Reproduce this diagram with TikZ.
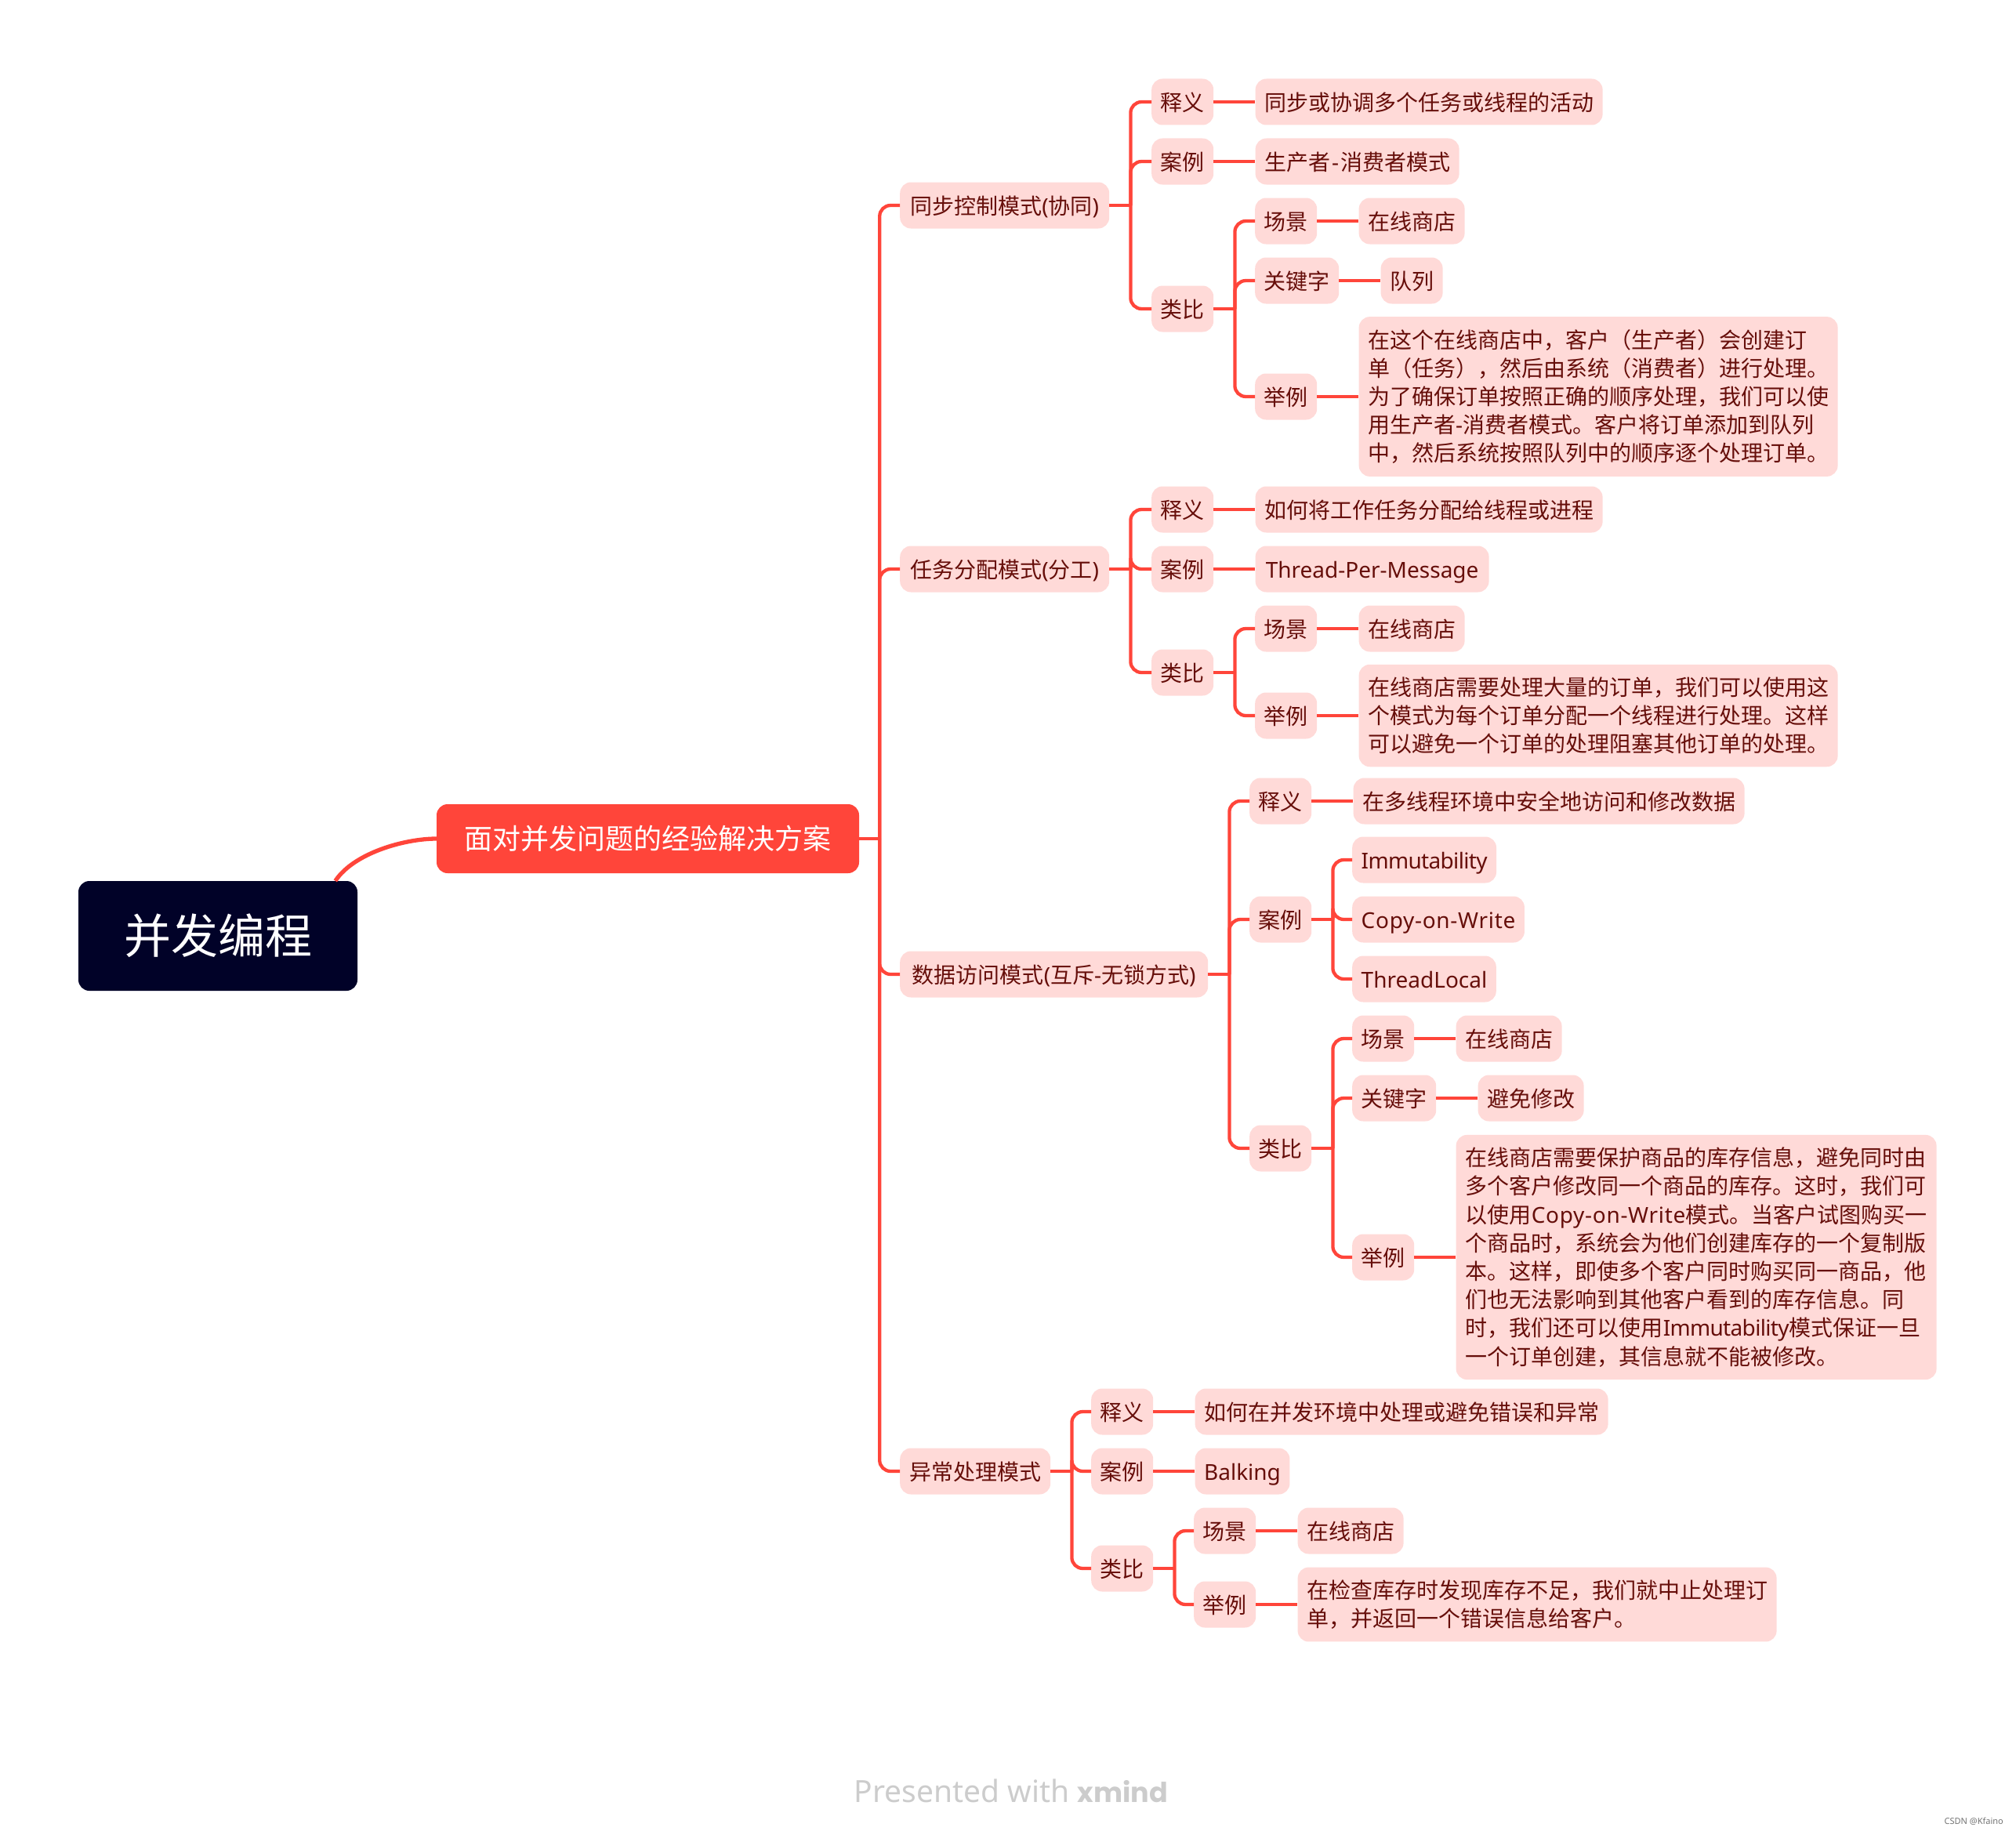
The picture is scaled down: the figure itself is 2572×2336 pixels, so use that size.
\documentclass[tikz,border=0pt]{standalone}
\usepackage{fontspec}
\setmainfont{Noto Sans CJK SC}
\newfontfamily\latinfont{Noto Sans}
\newfontfamily\brandfont{Poppins}
\newcommand{\lat}[2][0]{{\latinfont\addfontfeature{LetterSpace=#1}#2}}
\usetikzlibrary{
  calc,
  positioning,
}
\definecolor{rootblue}{RGB}{1,2,40}
\definecolor{linkred}{RGB}{255,69,58}
\definecolor{subpink}{RGB}{255,218,216}
\definecolor{subtext}{RGB}{102,14,10}
\tikzset{
  rootbox/.style={fill=rootblue, text=white, rounded corners=14pt, minimum width=356pt, minimum height=140pt, font=\fontsize{60}{72}\selectfont},
  topicbox/.style={fill=linkred, text=white, rounded corners=14pt, minimum width=539pt, minimum height=88pt, font=\fontsize{36}{44}\selectfont},
  subbox/.style={fill=subpink, text=subtext, rounded corners=14pt, inner xsep=11.5pt, inner ysep=0pt, minimum height=59pt, text height=26pt, text depth=3pt, align=left, font=\fontsize{28}{36.2}\selectfont},
  longbox/.style={subbox, text height=, text depth=, inner ysep=16pt},
  link/.style={draw=linkred, line width=4.3pt, rounded corners=14pt},
  note/.style={text=black!20, font=\fontsize{39}{48}\selectfont\latinfont},
}

\begin{document}
\begin{tikzpicture}[x=1pt, y=-1pt, node distance=53pt]
      \useasboundingbox (0,0) rectangle (2572,2336);

      \node [rootbox] (root) at (278,1194) {并发编程};
      \node [topicbox] (topic) at (826.5,1070) {面对并发问题的经验解决方案};

      % first branch
      \node [subbox, anchor=west, minimum width=267pt] (sync) at (1148,262) {同步控制模式\lat{(}协同\lat{)}};
      \node [subbox, anchor=west] (syncdef) at (1469,130) {释义};
      \node [subbox, right=of syncdef] (syncdeft) {同步或协调多个任务或线程的活动};
      \node [subbox, anchor=west] (synccase) at (1469,206) {案例};
      \node [subbox, right=of synccase] (synccaset) {生产者\kern2pt\lat{-}\kern2pt消费者模式};
      \node [subbox, anchor=west] (syncana) at (1469,394) {类比};
      \node [subbox, anchor=west] (syncsce) at (1601,282) {场景};
      \node [subbox, right=of syncsce] (syncscet) {在线商店};
      \node [subbox, anchor=west] (synckey) at (1601,358) {关键字};
      \node [subbox, right=of synckey] (synckeyt) {队列};
      \node [subbox, anchor=west] (syncex) at (1601,506) {举例};
      \node [longbox, right=of syncex] (syncext) {在这个在线商店中，客户（生产者）会创建订\\单（任务），然后由系统（消费者）进行处理。\\为了确保订单按照正确的顺序处理，我们可以使\\用生产者\lat{-}消费者模式。客户将订单添加到队列\\中，然后系统按照队列中的顺序逐个处理订单。};

      % second branch
      \node [subbox, anchor=west, minimum width=267pt] (task) at (1148,726) {任务分配模式\lat{(}分工\lat{)}};
      \node [subbox, anchor=west] (taskdef) at (1469,650) {释义};
      \node [subbox, right=of taskdef] (taskdeft) {如何将工作任务分配给线程或进程};
      \node [subbox, anchor=west] (taskcase) at (1469,726) {案例};
      \node [subbox, right=of taskcase, minimum width=298pt] (taskcaset) {\lat{Thread-Per-Message}};
      \node [subbox, anchor=west] (taskana) at (1469,858) {类比};
      \node [subbox, anchor=west] (tasksce) at (1601,802) {场景};
      \node [subbox, right=of tasksce] (taskscet) {在线商店};
      \node [subbox, anchor=west] (taskex) at (1601,913) {举例};
      \node [longbox, right=of taskex] (taskext) {在线商店需要处理大量的订单，我们可以使用这\\个模式为每个订单分配一个线程进行处理。这样\\可以避免一个订单的处理阻塞其他订单的处理。};

      % third branch
      \node [subbox, anchor=west, minimum width=393pt] (data) at (1148,1243) {数据访问模式\lat{(}互斥\lat{-}无锁方式\lat{)}};
      \node [subbox, anchor=west] (datadef) at (1594,1022) {释义};
      \node [subbox, right=of datadef] (datadeft) {在多线程环境中安全地访问和修改数据};
      \node [subbox, anchor=west] (datacase) at (1594,1173) {案例};
      \node [subbox, anchor=west] (dataim) at (1725,1097) {\lat[-2.4]{Immutability}};
      \node [subbox, anchor=west] (datacw) at (1725,1173) {\lat[2.5]{Copy-on-Write}};
      \node [subbox, anchor=west] (datatl) at (1725,1249) {\lat{ThreadLocal}};
      \node [subbox, anchor=west] (dataana) at (1594,1465) {类比};
      \node [subbox, anchor=west] (datasce) at (1725,1325) {场景};
      \node [subbox, right=of datasce] (datascet) {在线商店};
      \node [subbox, anchor=west] (datakey) at (1725,1401) {关键字};
      \node [subbox, right=of datakey] (datakeyt) {避免修改};
      \node [subbox, anchor=west] (dataex) at (1725,1604) {举例};
      \node [longbox, right=of dataex, minimum width=613pt] (dataext) {在线商店需要保护商品的库存信息，避免同时由\\多个客户修改同一个商品的库存。这时，我们可\\以使用\lat[2.5]{Copy-on-Write}模式。当客户试图购买一\\个商品时，系统会为他们创建库存的一个复制版\\本。这样，即使多个客户同时购买同一商品，他\\们也无法影响到其他客户看到的库存信息。同\\时，我们还可以使用\lat[-2.4]{Immutability}模式保证一旦\\一个订单创建，其信息就不能被修改。};

      % fourth branch
      \node [subbox, anchor=west, minimum width=192pt] (fault) at (1148,1877) {异常处理模式};
      \node [subbox, anchor=west] (faultdef) at (1392,1801) {释义};
      \node [subbox, right=of faultdef] (faultdeft) {如何在并发环境中处理或避免错误和异常};
      \node [subbox, anchor=west] (faultcase) at (1392,1877) {案例};
      \node [subbox, right=of faultcase] (faultcaset) {\lat{Balking}};
      \node [subbox, anchor=west] (faultana) at (1392,2001) {类比};
      \node [subbox, anchor=west] (faultsce) at (1523,1953) {场景};
      \node [subbox, right=of faultsce] (faultscet) {在线商店};
      \node [subbox, anchor=west] (faultex) at (1523,2047) {举例};
      \node [longbox, right=of faultex] (faultext) {在检查库存时发现库存不足，我们就中止处理订\\单，并返回一个错误信息给客户。};

      \node [note, anchor=west] (brand) at (1086,2285) {Presented with {\brandfont\bfseries\fontsize{35}{48}\selectfont xmind}};
      \node [text=black!55, anchor=east, inner sep=0pt, font=\fontsize{11}{13}\latinfont\selectfont] (mark) at (2556,2324) {CSDN @Kfaino};

      \coordinate (rootend) at ($(root.north west)+(328,0)$);
      \draw [draw=linkred, line width=5.3pt] (rootend) .. controls +(24,-36) and +(-40,0) .. (topic.west);

      \coordinate (topicbus) at ($(topic.east)+(26,0)$);
      \draw [link] (topic.east) -- (topicbus);
      \foreach \kid in {sync,task,data,fault}
        \draw [link] (\kid.west) -| (topicbus);

      \coordinate (syncbus) at ($(sync.east)+(27,0)$);
      \draw [link] (sync.east) -- (syncbus);
      \foreach \kid in {syncdef,synccase,syncana}
        \draw [link] (\kid.west) -| (syncbus);
      \coordinate (syncanabus) at ($(syncana.east)+(27,0)$);
      \draw [link] (syncana.east) -- (syncanabus);
      \foreach \kid in {syncsce,synckey,syncex}
        \draw [link] (\kid.west) -| (syncanabus);

      \coordinate (taskbus) at ($(task.east)+(27,0)$);
      \draw [link] (task.east) -- (taskbus);
      \foreach \kid in {taskdef,taskcase,taskana}
        \draw [link] (\kid.west) -| (taskbus);
      \coordinate (taskanabus) at ($(taskana.east)+(27,0)$);
      \draw [link] (taskana.east) -- (taskanabus);
      \foreach \kid in {tasksce,taskex}
        \draw [link] (\kid.west) -| (taskanabus);

      \coordinate (databus) at ($(data.east)+(27,0)$);
      \draw [link] (data.east) -- (databus);
      \foreach \kid in {datadef,datacase,dataana}
        \draw [link] (\kid.west) -| (databus);
      \coordinate (datacasebus) at ($(datacase.east)+(27,0)$);
      \draw [link] (datacase.east) -- (datacasebus);
      \foreach \kid in {dataim,datacw,datatl}
        \draw [link] (\kid.west) -| (datacasebus);
      \coordinate (dataanabus) at ($(dataana.east)+(27,0)$);
      \draw [link] (dataana.east) -- (dataanabus);
      \foreach \kid in {datasce,datakey,dataex}
        \draw [link] (\kid.west) -| (dataanabus);

      \coordinate (faultbus) at ($(fault.east)+(27,0)$);
      \draw [link] (fault.east) -- (faultbus);
      \foreach \kid in {faultdef,faultcase,faultana}
        \draw [link] (\kid.west) -| (faultbus);
      \coordinate (faultanabus) at ($(faultana.east)+(27,0)$);
      \draw [link] (faultana.east) -- (faultanabus);
      \foreach \kid in {faultsce,faultex}
        \draw [link] (\kid.west) -| (faultanabus);

      % leaf links
      \foreach \from/\to in {syncdef/syncdeft,synccase/synccaset,syncsce/syncscet,synckey/synckeyt,syncex/syncext,
        taskdef/taskdeft,taskcase/taskcaset,tasksce/taskscet,taskex/taskext,
        datadef/datadeft,datasce/datascet,datakey/datakeyt,dataex/dataext,
        faultdef/faultdeft,faultcase/faultcaset,faultsce/faultscet,faultex/faultext}
        \draw [link] (\from.east) -- (\to.west);
    \end{tikzpicture}
\end{document}
